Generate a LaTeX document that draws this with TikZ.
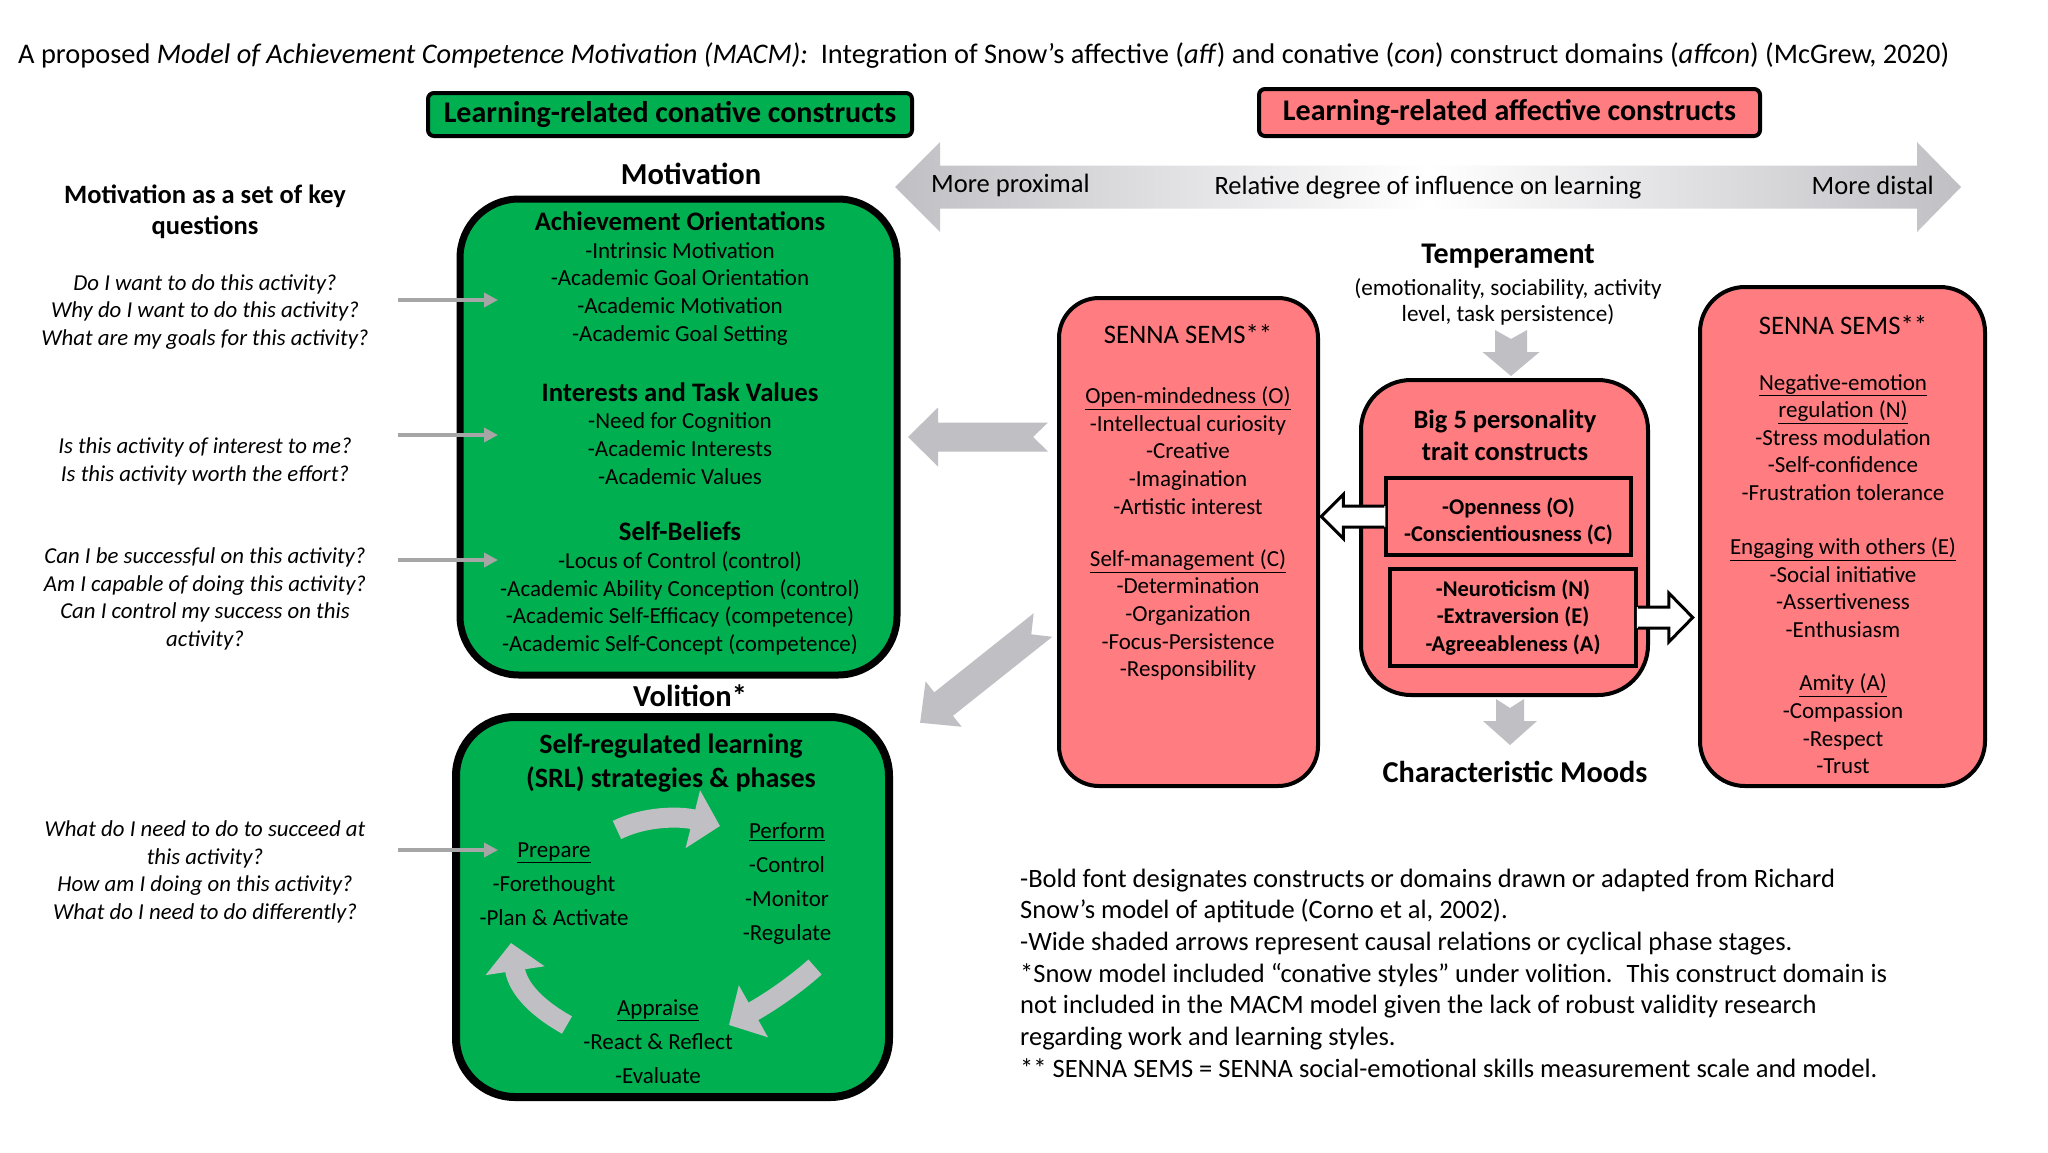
\documentclass[tikz,border=0pt]{standalone}
\usepackage{fontspec}
\setmainfont{Carlito}
\usetikzlibrary{arrows.meta,positioning}

\definecolor{boxgreen}{RGB}{0,176,80}
\definecolor{boxpink}{RGB}{255,124,128}
\definecolor{fatgrey}{RGB}{192,191,196}
\definecolor{thingrey}{RGB}{166,166,166}

\newcommand{\fsz}[2]{\fontsize{#1}{#2}\selectfont}

\tikzset{
  txt/.style={align=center, inner sep=0pt},
  body/.style={txt, font=\fsz{23}{27.6}},
  ques/.style={txt, font=\itshape\fsz{22.8}{27.4}},
  hd/.style={txt, font=\bfseries\fsz{30.5}{34}},
  hdbox/.style={draw=black, line width=4, rounded corners=6, inner sep=0pt, font=\bfseries\fsz{30}{34}},
  greenbox/.style={draw=black, fill=boxgreen, rounded corners=59},
  pinkbox/.style={draw=black, line width=4, fill=boxpink},
  traitbox/.style={draw=black, line width=3.5},
  qarrow/.style={thingrey, line width=4, -{Triangle[length=14,width=14]}},
  phase/.style={fatgrey, line width=20, -{Triangle[length=28,width=58]}},
  hollow/.style={draw=black, line width=3, fill=white, line join=miter},
  pics/fatarrow/.style args={#1/#2/#3/#4/#5}{code={
    \fill[fatgrey] (0,-#2) -- (#1-#4,-#2) -- (#1-#4,-#3) -- (#1,0) -- (#1-#4,#3)
      -- (#1-#4,#2) -- (0,#2) -- (#5,0) -- cycle;
  }}
}

\begin{document}
\begin{tikzpicture}[x=1pt,y=-1pt]
\useasboundingbox (0,0) rectangle (2048,1152);
\fill[white] (0,0) rectangle (2048,1152);

% title line
\node[txt, anchor=west, font=\fsz{28.4}{34}] (title) at (18,56)
  {A proposed \textit{Model of Achievement Competence Motivation (MACM):}~ Integration of Snow's affective (\textit{aff}) and conative (\textit{con}) construct domains (\textit{affcon}) (McGrew, 2020)};

% headers
\node[hdbox, fill=boxgreen, minimum width=484, minimum height=43] (conhead) at (670,114.5) {Learning-related conative constructs};
\node[hdbox, fill=boxpink, minimum width=501, minimum height=47] (affhead) at (1509.5,112.5) {Learning-related affective constructs};

% proximal / distal arrow
\shade[left color=fatgrey, right color=fatgrey, middle color=white]
  (895,187) -- (940,142) -- (940,165.5) -- (1917,165.5) -- (1917,142) -- (1961,187)
  -- (1917,232) -- (1917,208.5) -- (940,208.5) -- (940,232) -- cycle;
\node[txt, font=\fsz{26.5}{29}, anchor=west] (prox) at (931,185) {More proximal};
\node[txt, font=\fsz{26.5}{29}] (infl) at (1428,188) {Relative degree of influence on learning};
\node[txt, font=\fsz{26.5}{29}, anchor=east] (dist) at (1934,185) {More distal};

% key questions
\node[txt, font=\bfseries\fsz{26.5}{31}] (qhead) at (205,211.5) {Motivation as a set of key\\questions};
\node[ques] (q1) at (205,312) {Do I want to do this activity?\\Why do I want to do this activity?\\What are my goals for this activity?};
\node[ques] (q2) at (205,461.5) {Is this activity of interest to me?\\Is this activity worth the effort?};
\node[ques] (q3) at (205,599) {Can I be successful on this activity?\\Am I capable of doing this activity?\\Can I control my success on this\\activity?};
\node[ques] (q4) at (205,872) {What do I need to do to succeed at\\this activity?\\How am I doing on this activity?\\What do I need to do differently?};

% motivation
\node[hd] (motiv) at (691,174) {Motivation};
\node[greenbox, line width=7, minimum width=437, minimum height=476] (motbox) at (678.5,437) {};
\node[body] (ao) at (680,278.5) {{\bfseries\fsz{26.7}{30}Achievement Orientations}\\-Intrinsic Motivation\\-Academic Goal Orientation\\-Academic Motivation\\-Academic Goal Setting};
\node[body] (itv) at (680,433.5) {{\bfseries\fsz{26.7}{30}Interests and Task Values}\\-Need for Cognition\\-Academic Interests\\-Academic Values};
\node[body] (sb) at (680,588.5) {{\bfseries\fsz{26.7}{30}Self-Beliefs}\\-Locus of Control (control)\\-Academic Ability Conception (control)\\-Academic Self-Efficacy (competence)\\-Academic Self-Concept (competence)};

% volition
\node[hd] (volit) at (690,696) {Volition*};
\node[greenbox, line width=8, minimum width=433, minimum height=380] (srlbox) at (672.5,907) {};
\node[txt, font=\bfseries\fsz{28}{34}] (srl) at (671,763) {Self-regulated learning\\(SRL) strategies \& phases};
\node[txt, font=\fsz{23}{34}] (prep) at (554,884) {\underline{Prepare}\\-Forethought\\-Plan \& Activate};
\node[txt, font=\fsz{23}{34}] (perf) at (787,884) {\underline{Perform}\\-Control\\-Monitor\\-Regulate};
\node[txt, font=\fsz{23}{34}] (appr) at (658,1041.5) {\underline{Appraise}\\-React \& Reflect\\-Evaluate};

% SRL cycle
\coordinate (c1) at (617,830);
\coordinate (c2) at (720,826);
\coordinate (c3) at (815,967);
\coordinate (c4) at (729,1025);
\coordinate (c5) at (567,1025);
\coordinate (c6) at (511,943);
\draw[phase] (c1) .. controls (645,816) and (680,816) .. (c2);
\draw[phase] (c3) .. controls (795,985) and (770,1002) .. (c4);
\draw[phase] (c5) .. controls (540,1010) and (518,990) .. (c6);

% question arrows
\foreach \y [count=\i] in {300,435,560,850}{
  \coordinate (qa\i) at (398,\y);
  \coordinate (qb\i) at (498,\y);
  \draw[qarrow] (qa\i) -- (qb\i);
}

% causal arrows
\pic[rotate=180] (toMot) at (1048,437) {fatarrow=140/14.5/29.5/30/15};
\pic[rotate=218.5] (toVol) at (1043,625) {fatarrow=157/15/29/30/15};

% left SENNA
\node[pinkbox, rounded corners=40, minimum width=259, minimum height=488] (sennaL) at (1188.5,542) {};
\node[txt, font=\fsz{26.7}{29}] (sennaLt) at (1188,334) {SENNA SEMS**};
\node[body] (open) at (1188,450.5) {\underline{Open-mindedness (O)}\\-Intellectual curiosity\\-Creative\\-Imagination\\-Artistic interest};
\node[body] (selfm) at (1188,615) {\underline{Self-management (C)}\\-Determination\\-Organization\\-Focus-Persistence\\-Responsibility};

% right SENNA
\node[pinkbox, rounded corners=45, minimum width=285, minimum height=499] (sennaR) at (1842.5,536.5) {};
\node[txt, font=\fsz{26.7}{29}] (sennaRt) at (1843,325) {SENNA SEMS**};
\node[body] (nereg) at (1843,437.5) {\underline{Negative-emotion}\\\underline{regulation (N)}\\-Stress modulation\\-Self-confidence\\-Frustration tolerance};
\node[body] (engage) at (1843,587.5) {\underline{Engaging with others (E)}\\-Social initiative\\-Assertiveness\\-Enthusiasm};
\node[body] (amity) at (1843,724) {\underline{Amity (A)}\\-Compassion\\-Respect\\-Trust};

% temperament and big five
\node[hd, font=\bfseries\fsz{30}{34}] (temper) at (1508,256) {Temperament};
\node[txt, font=\fsz{23.2}{26}] (tempers) at (1508,302) {(emotionality, sociability, activity\\level, task persistence)};
\node[pinkbox, rounded corners=50, minimum width=287, minimum height=315] (big5) at (1504.5,537.5) {};
\node[txt, font=\bfseries\fsz{26.5}{32}] (big5t) at (1505,435) {Big 5 personality\\trait constructs};
\node[traitbox, minimum width=245, minimum height=77] (oc) at (1508.5,516.5) {};
\node[txt, font=\bfseries\fsz{22.5}{27}] (oct) at (1508.5,521.5) {-Openness (O)\\-Conscientiousness (C)};
\node[traitbox, minimum width=246, minimum height=97] (nea) at (1513,617.5) {};
\node[txt, font=\bfseries\fsz{22.5}{27.5}] (neat) at (1513,617.5) {-Neuroticism (N)\\-Extraversion (E)\\-Agreeableness (A)};
\node[hd, font=\bfseries\fsz{30.3}{32}] (moods) at (1515,772) {Characteristic Moods};

\pic[rotate=270] (toBig) at (1511,330) {fatarrow=46/16/28.5/24/9};
\pic[rotate=270] (toMood) at (1510,699) {fatarrow=46/14/27/24/9};

% hollow arrows
\path[hollow, draw=none] (oc.west) ++(1,-10.5) -- ++(-42,0) -- ++(0,-11.5) -- ++(-22,22)
  -- ++(22,22) -- ++(0,-11.5) -- ++(42,0) -- cycle;
\draw[hollow, fill=none] (oc.west) ++(0,-10.5) -- ++(-41,0) -- ++(0,-11.5) -- ++(-22,22)
  -- ++(22,22) -- ++(0,-11.5) -- ++(41,0);
\path[hollow, draw=none] (nea.east) ++(-1,-10.5) -- ++(32,0) -- ++(0,-14) -- ++(24,24.5)
  -- ++(-24,24.5) -- ++(0,-14) -- ++(-32,0) -- cycle;
\draw[hollow, fill=none] (nea.east) ++(0,-10.5) -- ++(31,0) -- ++(0,-14) -- ++(24,24.5)
  -- ++(-24,24.5) -- ++(0,-14) -- ++(-31,0);

% notes
\node[txt, align=left, anchor=west, font=\fsz{26.5}{31.7}] (notes) at (1020,973)
  {-Bold font designates constructs or domains drawn or adapted from Richard\\
   Snow's model of aptitude (Corno et al, 2002).\\
   -Wide shaded arrows represent causal relations or cyclical phase stages.\\
   *Snow model included ``conative styles'' under volition.~ This construct domain is\\
   not included in the MACM model given the lack of robust validity research\\
   regarding work and learning styles.\\
   ** SENNA SEMS = SENNA social-emotional skills measurement scale and model.};
\end{tikzpicture}
\end{document}
